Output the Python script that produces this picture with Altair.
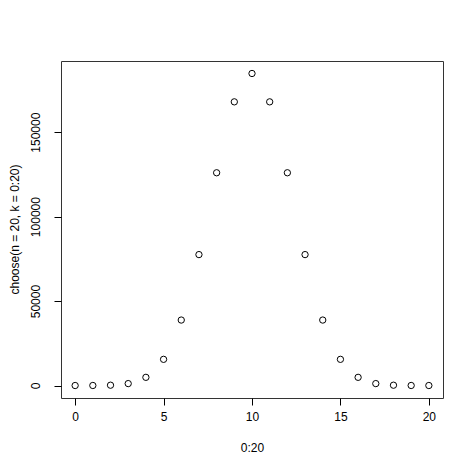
import altair as alt
import pandas as pd

k = list(range(0, 21))
values = [1, 20, 190, 1140, 4845, 15504, 38760, 77520, 125970, 167960, 184756,
          167960, 125970, 77520, 38760, 15504, 4845, 1140, 190, 20, 1]

df = pd.DataFrame({"k": k, "v": values})

FONT = "Liberation Sans"

chart = alt.Chart(df).mark_point(
    shape="circle", filled=False, color="black", strokeWidth=1, size=40, opacity=1
).encode(
    x=alt.X("k:Q", scale=alt.Scale(domain=[-0.8, 20.8], nice=False, zero=False),
            axis=alt.Axis(title="0:20", values=[0, 5, 10, 15, 20], grid=False, domain=False,
                          tickSize=7, tickColor="black", labelPadding=6, labelFontSize=12,
                          labelFont=FONT, labelColor="black", titleFont=FONT, titleFontSize=12,
                          titleFontWeight="normal", titleColor="black", titlePadding=20)),
    y=alt.Y("v:Q", scale=alt.Scale(domain=[-7390, 192146], nice=False, zero=False),
            axis=alt.Axis(title="choose(n = 20, k = 0:20)", values=[0, 50000, 100000, 150000],
                          grid=False, domain=False, tickSize=7, tickColor="black",
                          labelAngle=270, labelAlign="center", labelBaseline="bottom",
                          labelPadding=12, labelFontSize=12, labelFont=FONT, labelColor="black",
                          titleFont=FONT, titleFontSize=12, titleFontWeight="normal",
                          titleColor="black", titleAngle=270, titleX=-47, titleY=168,
                          titleAlign="center", titleBaseline="middle",
                          format="d")),
).properties(
    width=382, height=337,
    background="white",
    padding={"left": 53, "top": 53, "right": 23, "bottom": 60},
    autosize=alt.AutoSizeParams(type="none"),
).configure_view(
    stroke="#333333", strokeWidth=1
)

chart.save("out.html", embed_options={"renderer": "svg", "actions": False})
